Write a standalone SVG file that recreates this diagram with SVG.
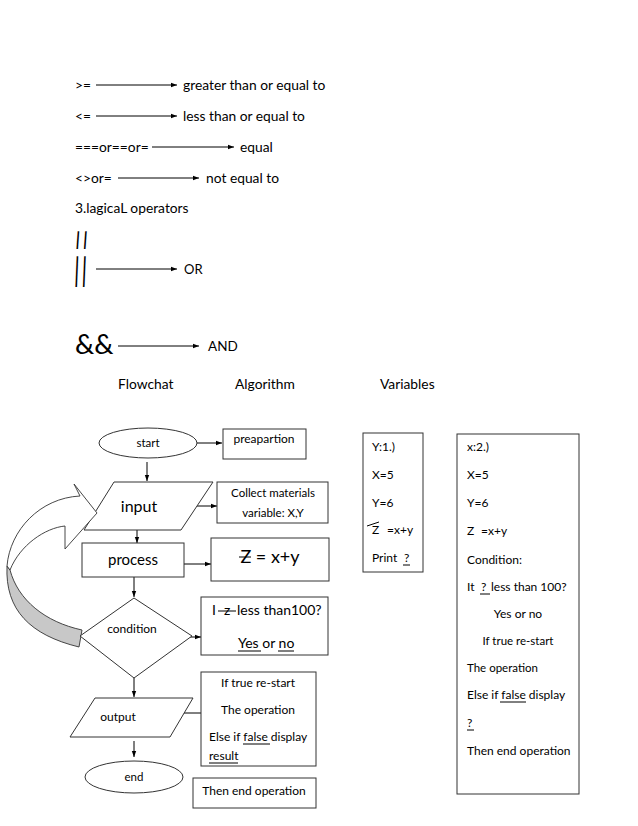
<svg xmlns="http://www.w3.org/2000/svg" width="638" height="826" viewBox="0 0 638 826">
<defs>
<marker id="ah" viewBox="0 0 6 6" refX="6" refY="3" markerWidth="6" markerHeight="6" markerUnits="userSpaceOnUse" orient="auto">
<path d="M0,0.8 L6,3 L0,5.2 Z" fill="#000"/>
</marker>
<style>
text{font-family:Lato,"Liberation Sans",Arial,sans-serif;fill:#000}
.t{font-size:13.8px}
.s{font-size:12px}
.m{font-size:11.5px}
.c{text-anchor:middle}
.bar{font-family:"Liberation Sans",Arial,sans-serif;font-size:19px;letter-spacing:2.6px}
.box{fill:#fff;stroke:#333;stroke-width:1}
.ar{stroke:#000;stroke-width:1;fill:none;marker-end:url(#ah)}
.u{stroke:#000;stroke-width:1}
</style>
</defs>
<rect width="638" height="826" fill="#fff"/>

<g id="operators">
<text class="t" x="75" y="90">&gt;=</text>
<text class="t" x="183" y="90">greater than or equal to</text>
<text class="t" x="75" y="121">&lt;=</text>
<text class="t" x="183" y="121">less than or equal to</text>
<text class="t" x="75" y="152">===or==or=</text>
<text class="t" x="240" y="152">equal</text>
<text class="t" x="75" y="183">&lt;&gt;or=</text>
<text class="t" x="206" y="183">not equal to</text>
<text class="t" x="75" y="213">3.lagicaL operators</text>
<text class="bar" transform="translate(75,245) skewX(-4)" x="0" y="0">||</text>
<text class="bar" transform="translate(74,280) scale(1,1.72) skewX(-4)" x="0" y="0">||</text>
<text x="184" y="274" font-size="13">OR</text>
<text x="75" y="354" font-size="27">&amp;&amp;</text>
<text x="208" y="351" font-size="13.5">AND</text>
</g>

<g id="headers">
<text class="t" x="118" y="389">Flowchat</text>
<text class="t" x="235" y="389">Algorithm</text>
<text class="t" x="380" y="389">Variables</text>
</g>

<g id="connectors">
<line class="ar" x1="96" y1="85" x2="177" y2="85"/>
<line class="ar" x1="96" y1="116" x2="177" y2="116"/>
<line class="ar" x1="152" y1="147" x2="234" y2="147"/>
<line class="ar" x1="118" y1="178" x2="199" y2="178"/>
<line class="ar" x1="96" y1="269" x2="177" y2="269"/>
<line class="ar" x1="118" y1="346" x2="199" y2="346"/>
<line class="ar" x1="197" y1="443" x2="222" y2="443"/>
<line class="ar" x1="147" y1="462" x2="147" y2="481"/>
<line class="ar" x1="192" y1="506" x2="217" y2="506"/>
<line class="ar" x1="137" y1="530" x2="137" y2="543"/>
<line class="ar" x1="184" y1="564" x2="211" y2="564"/>
<line class="ar" x1="134" y1="577" x2="134" y2="597"/>
<line class="ar" x1="178" y1="637" x2="201" y2="637"/>
<line class="ar" x1="134" y1="678" x2="134" y2="697"/>
<line class="ar" x1="183" y1="713" x2="208" y2="713"/>
<line class="ar" x1="134" y1="741" x2="134" y2="757"/>
</g>

<g id="start">
<ellipse class="box" cx="148" cy="443" rx="49" ry="15"/>
<text class="m c" x="148" y="447">start</text>
</g>
<g id="preapartion">
<rect class="box" x="223" y="429" width="83" height="30"/>
<text class="s c" x="264" y="443">preapartion</text>
</g>
<g id="input">
<polygon class="box" points="114,482 213,482 181,530 84,530"/>
<text class="c" x="139" y="512" font-size="16">input</text>
</g>

<g id="loop-arrow">
<path d="M7,566 C5,610 30,635 79,647 L82,630 C45,622 18,600 10,570 Z" fill="#c8c8c8" stroke="#333" stroke-width="0.9"/>
<path d="M80,496 L74,484 L97,513 L65,549 L65,526 C45,528 20,545 10,570 L7,566 C10,530 40,498 80,496 Z" fill="#fff" stroke="#333" stroke-width="0.9"/>
</g>

<g id="collect">
<rect class="box" x="217" y="482" width="111" height="41"/>
<text class="m c" x="273" y="497">Collect materials</text>
<text class="m c" x="273" y="517">variable: X,Y</text>
</g>
<g id="process">
<rect class="box" x="82" y="543" width="102" height="34"/>
<text class="c" x="133" y="565" font-size="15">process</text>
</g>
<g id="zbox">
<rect class="box" x="211" y="538" width="118" height="43"/>
<text class="c" x="270" y="563" font-size="18">Z = x+y</text>
<line class="u" x1="239" y1="557" x2="251" y2="557"/>
</g>
<g id="condition">
<polygon class="box" points="134,598 192,636 134,678 80,636"/>
<text class="s c" x="132" y="633">condition</text>
</g>
<g id="lessbox">
<rect class="box" x="201" y="597" width="127" height="58"/>
<text x="212" y="615" font-size="14">I<tspan x="224">z</tspan><tspan x="237">less than100?</tspan></text>
<line class="u" x1="218" y1="611" x2="236" y2="611"/>
<text x="238" y="648" font-size="14">Yes or no</text>
<line class="u" x1="238" y1="651" x2="261" y2="651"/>
<line class="u" x1="278" y1="651" x2="294" y2="651"/>
</g>
<g id="output">
<polygon class="box" points="95,698 193,698 170,737 70,737"/>
<text class="s c" x="118" y="721">output</text>
</g>
<g id="ifbox">
<rect class="box" x="201" y="672" width="115" height="94"/>
<text class="s c" x="258" y="687">If true re-start</text>
<text class="s c" x="258" y="714">The operation</text>
<text class="s" x="209" y="741">Else if false display</text>
<line class="u" x1="243" y1="744" x2="270" y2="744"/>
<text class="s" x="209" y="760">result</text>
<line class="u" x1="209" y1="763" x2="238" y2="763"/>
</g>
<g id="end">
<ellipse class="box" cx="134" cy="777" rx="49" ry="16"/>
<text class="m c" x="134" y="781">end</text>
</g>
<g id="thenend">
<rect class="box" x="193" y="778" width="123" height="30"/>
<text class="s c" x="254" y="795">Then end operation</text>
</g>

<g id="vars1">
<rect class="box" x="363" y="433" width="60" height="139"/>
<text class="s" x="372" y="451">Y:1.)</text>
<text class="s" x="372" y="479">X=5</text>
<text class="s" x="372" y="507">Y=6</text>
<text class="s" x="372" y="534">Z<tspan x="387">=x+y</tspan></text>
<line class="u" x1="367" y1="526" x2="379" y2="522"/>
<text class="s" x="372" y="562">Print<tspan x="404">?</tspan></text>
<line class="u" x1="403" y1="565" x2="410" y2="565"/>
</g>
<g id="vars2">
<rect class="box" x="457" y="434" width="122" height="360"/>
<text class="s" x="467" y="451">x:2.)</text>
<text class="s" x="467" y="479">X=5</text>
<text class="s" x="467" y="507">Y=6</text>
<text class="s" x="467" y="535">Z<tspan x="481">=x+y</tspan></text>
<text class="s" x="467" y="564">Condition:</text>
<text class="s" x="467" y="591">It<tspan x="481">?</tspan><tspan x="491">less than 100?</tspan></text>
<line class="u" x1="480" y1="594" x2="490" y2="594"/>
<text class="s c" x="518" y="618">Yes or no</text>
<text class="m c" x="518" y="645">If true re-start</text>
<text class="m" x="467" y="672">The operation</text>
<text class="s" x="467" y="699">Else if false display</text>
<line class="u" x1="500" y1="702" x2="526" y2="702"/>
<text class="s" x="467" y="727">?</text>
<line class="u" x1="467" y1="730" x2="474" y2="730"/>
<text class="s" x="467" y="755">Then end operation</text>
</g>
</svg>
